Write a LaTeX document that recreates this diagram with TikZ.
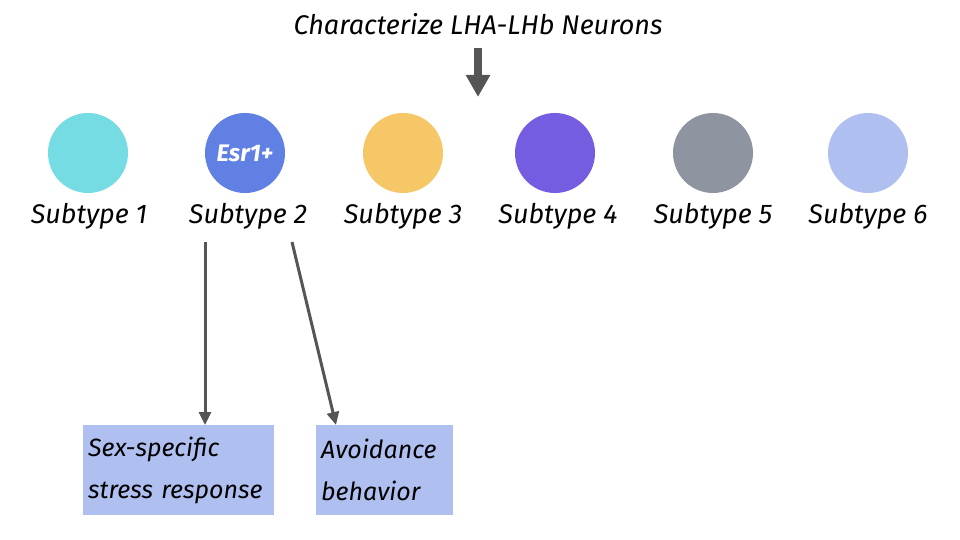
\documentclass[tikz,border=0pt]{standalone}
\usepackage{fontspec}
\setmainfont{Fira Sans}
\usetikzlibrary{arrows.meta}

\definecolor{cyanc}{HTML}{74DCE2}
\definecolor{bluec}{HTML}{6080E3}
\definecolor{yellowc}{HTML}{F6C766}
\definecolor{purplec}{HTML}{755CE0}
\definecolor{grayc}{HTML}{8E94A0}
\definecolor{paleblue}{HTML}{AFC0F0}
\definecolor{arrowc}{HTML}{555555}

\begin{document}
\begin{tikzpicture}[x=1pt, y=-1pt,
  font=\fontsize{27}{42}\selectfont\itshape,
  cell/.style = {circle, minimum size=80pt, inner sep=0pt},
  label/.style = {inner sep=0pt},
  result/.style = {fill=paleblue, anchor=north west, inner sep=5pt, minimum height=90pt, align=left,
    font=\fontsize{25}{42}\selectfont\itshape},
  link/.style = {draw=arrowc, line width=3pt, -{Triangle[width=12pt,length=13pt]}}]
\useasboundingbox (0,0) rectangle (960,540);

\node[label] (title) at (478,24) {Characterize LHA-LHb Neurons};
\coordinate (top) at (478,48);
\coordinate (row) at (478,97);
\draw[draw=arrowc, line width=8pt, -{Triangle[width=23pt,length=22pt]}] (top) -- (row);

\node[cell, fill=cyanc] (c1) at (88,153) {};
\node[cell, fill=bluec, text=white] (c2) at (245,153) {\bfseries\fontsize{24}{28}\selectfont Esr1+};
\node[cell, fill=yellowc] (c3) at (403,153) {};
\node[cell, fill=purplec] (c4) at (555,153) {};
\node[cell, fill=grayc] (c5) at (713,153) {};
\node[cell, fill=paleblue] (c6) at (868,153) {};

\node[label] (l1) at (89,216) {Subtype 1};
\node[label] (l2) at (248,216) {Subtype 2};
\node[label] (l3) at (403,216) {Subtype 3};
\node[label] (l4) at (558,216) {Subtype 4};
\node[label] (l5) at (713,216) {Subtype 5};
\node[label] (l6) at (868,216) {Subtype 6};

\node[result, text width=181pt] (stress) at (83,425) {\mbox{Sex-specific}\\\mbox{stress response}};
\node[result, text width=127pt] (avoid) at (316,425) {\mbox{Avoidance}\\\mbox{behavior}};

\coordinate (s2a) at (205,242);
\coordinate (s2b) at (292,242);
\draw[link] (s2a) -- (s2a |- stress.north);
\draw[link] (s2b) -- ([xshift=20pt]avoid.north west);
\end{tikzpicture}
\end{document}
